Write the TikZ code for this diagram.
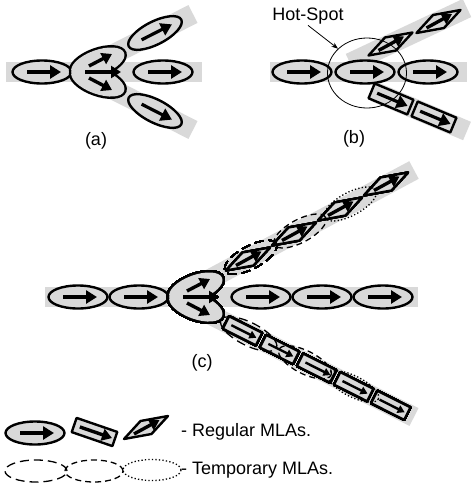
\documentclass[tikz,border=0pt]{standalone}
\usepackage{fontspec}
\setmainfont{Liberation Sans}
\usetikzlibrary{arrows.meta,shapes.geometric}

\definecolor{mlagray}{gray}{0.85}

\tikzset{
  >=Stealth,
  band/.style={draw=mlagray, line width=20pt},
  mla/.style={draw=black, fill=mlagray, line width=2.4pt, line join=round},
  mlarrow/.style={draw, line width=3.2pt, -{Triangle[length=11pt,width=13pt]}},
  midarrow/.style={draw, line width=3.4pt, -{Triangle[length=10pt,width=12pt]}},
  tinyarrow/.style={draw, line width=2.4pt, -{Triangle[length=7pt,width=8pt]}},
  tmplong/.style={draw, line width=1.3pt, dash pattern=on 9pt off 5pt},
  tmpdash/.style={draw, line width=1.3pt, dash pattern=on 6pt off 4pt},
  tmpdot/.style={draw, line width=1.3pt, dash pattern=on 1.3pt off 2.2pt},
  figlabel/.style={font=\fontsize{18}{21}\selectfont, inner sep=1pt},
  hotspot/.style={ellipse, draw, line width=0.8pt, minimum width=79pt,
    minimum height=70pt, inner sep=0pt},
}

% regular MLA: ellipse
\newcommand\mlaell[2]{%
  \begin{scope}[shift={(#1)}, rotate=#2]
    \draw[mla] (0,0) ellipse [x radius=29.5pt, y radius=11.5pt];
    \draw[mlarrow] (-15,0) -- (19,0);
  \end{scope}}
% regular MLA: rectangle (center, angle, half length, half width, arrow)
\newcommand\mlarect[5]{%
  \begin{scope}[shift={(#1)}, rotate=#2]
    \draw[mla] (-#3,-#4) rectangle (#3,#4);
    \draw[#5] (-#3+6,0) -- (#3-3,0);
  \end{scope}}
% regular MLA: rhombus
\newcommand\mlarhomb[1]{%
  \begin{scope}[shift={(#1)}]
    \draw[mla] (-22,11.5) -- (-5.5,-6.5) -- (22,-11.5) -- (5.5,6.5) -- cycle;
    \draw[midarrow] (-12,6.5) -- (13.5,-7.5);
  \end{scope}}
% splitting MLA (left tip)
\newcommand\mlaheart[1]{%
  \begin{scope}[shift={(#1)}]
    \foreach \ang in {20,-20}
      \draw[line width=4.8pt, rotate=\ang] (27.5,0) ellipse [x radius=28pt, y radius=12.5pt];
    \foreach \ang in {20,-20}
      \fill[mlagray, rotate=\ang] (27.5,0) ellipse [x radius=28pt, y radius=12.5pt];
    \draw[midarrow] (13,0) -- (49,0);
    \draw[midarrow] (17,-6) -- (40,-18);
    \draw[midarrow] (17,6) -- (40,18);
  \end{scope}}

\begin{document}
\begin{tikzpicture}[x=1pt, y=-1pt]
\useasboundingbox (0,0) rectangle (474,488);

% (a)
\draw[band] (6,72) -- (202,72);
\draw[band] (98,62) -- (193,14);
\draw[band] (98,82) -- (193,130);
\mlaell{42,72}{0}
\mlaell{163,72}{0}
\mlaell{155,33}{27}
\mlaell{155,111}{-27}
\mlaheart{72,72}
\node[figlabel] (la) at (96,141) {(a)};

% (b)
\draw[band] (270,72) -- (467,72);
\draw[band] (350,63) -- (467,8);
\draw[band] (375,92) -- (467,131);
\mlaell{302,72}{0}
\mlaell{365,72}{0}
\mlaell{428,72}{0}
\mlarhomb{390.5,44}
\mlarhomb{438.5,21.5}
\mlarect{391,99}{-22.7}{21}{8}{mlarrow}
\mlarect{434,117}{-22.7}{21}{8}{mlarrow}
\node[hotspot] (hot) at (367,73) {};
\node[figlabel] (hotlbl) at (308,16) {Hot-Spot};
\draw[->, line width=0.8pt] (hotlbl.south) -- (hot.140);
\node[figlabel] (lb) at (354,139) {(b)};

% (c)
\draw[band] (45,297) -- (418,297);
\draw[band] (196,286.5) -- (414,170);
\draw[band] (196,307.5) -- (414,417);
\foreach \cx in {78,139,261,322,383}
  \mlaell{\cx,297}{0}
\foreach \c in {{248,259},{294,234},{340,209},{386,184}}
  \mlarhomb{\c}
\foreach \c in {{242.5,330.8},{279.5,349.5},{316.6,368.1},{353.7,386.7},{390.8,405.3}}
  \mlarect{\c}{-26.7}{18.5}{7}{tinyarrow}
\mlaheart{170,297}
\draw[tmplong, rotate around={28.1:(250.7,257.3)}] (250.7,257.3) ellipse [x radius=29pt, y radius=11.5pt];
\draw[tmpdash, rotate around={28.1:(300,231)}] (300,231) ellipse [x radius=29pt, y radius=11.5pt];
\draw[tmpdot, rotate around={28.1:(350.3,204)}] (350.3,204) ellipse [x radius=29pt, y radius=11.5pt];
\draw[tmplong, rotate around={-26.7:(248.7,334)}] (248.7,334) ellipse [x radius=31pt, y radius=11.5pt];
\draw[tmpdash, rotate around={-26.7:(305,362.3)}] (305,362.3) ellipse [x radius=29pt, y radius=11.5pt];
\draw[tmpdot, rotate around={-26.7:(353.3,386.5)}] (353.3,386.5) ellipse [x radius=28pt, y radius=10.5pt];
\node[figlabel] (lc) at (202,363) {(c)};

% legend
\mlaell{35,433}{0}
\mlarect{94.5,432}{-19}{21.5}{7.5}{midarrow}
\mlarhomb{146,427.5}
\node[figlabel, anchor=west] (regular) at (180,432) {- Regular MLAs.};
\draw[tmplong] (36,471) ellipse [x radius=31pt, y radius=11pt];
\draw[tmpdash] (94,471) ellipse [x radius=29pt, y radius=11pt];
\draw[tmpdot] (152,470) ellipse [x radius=29pt, y radius=10.5pt];
\node[figlabel, anchor=west] (temporary) at (180,470) {- Temporary MLAs.};
\end{tikzpicture}
\end{document}
